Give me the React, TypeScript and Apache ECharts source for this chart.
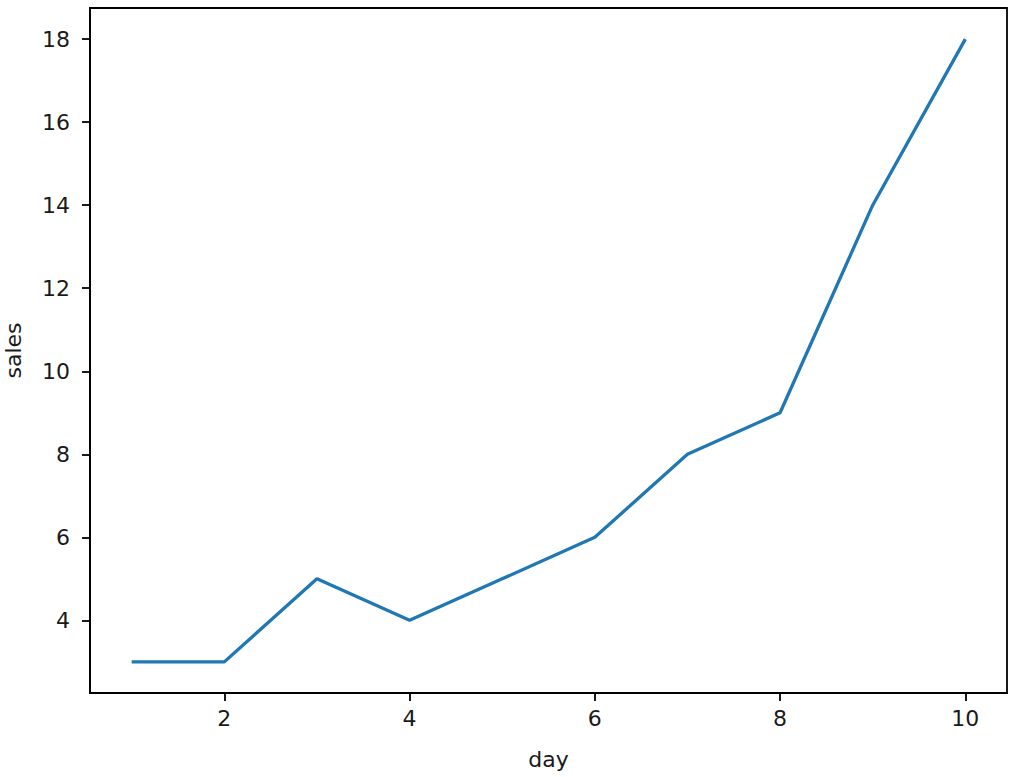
import React from 'react';
import * as echarts from 'echarts';

const days = [1, 2, 3, 4, 5, 6, 7, 8, 9, 10];
const sales = [3, 3, 5, 4, 5, 6, 8, 9, 14, 18];
const xTicks = [2, 4, 6, 8, 10];
const yTicks = [4, 6, 8, 10, 12, 14, 16, 18];

const FONT = 'DejaVu Sans';

const App = () => {
  const chartRef = React.useRef(null);

  React.useEffect(() => {
    const myChart = echarts.init(chartRef.current, null, { renderer: 'svg' });

    const axisCommon = {
      type: 'value',
      splitLine: { show: false },
      axisLine: { show: true, lineStyle: { color: '#000', width: 1.8 } },
      axisTick: { show: true, length: 8, lineStyle: { color: '#000', width: 1.8 } },
      nameLocation: 'middle',
      nameTextStyle: { fontFamily: FONT, fontSize: 22, color: '#1a1a1a' },
    };

    myChart.setOption({
      animation: false,
      backgroundColor: '#fff',
      grid: {
        left: 90,
        right: 17,
        top: 8,
        bottom: 84,
        show: true,
        borderColor: '#000',
        borderWidth: 1.8,
        outerBoundsMode: 'none',
        containLabel: false,
      },
      xAxis: {
        ...axisCommon,
        name: 'day',
        nameGap: 55,
        min: 0.55,
        max: 10.45,
        axisTick: { ...axisCommon.axisTick, customValues: xTicks },
        axisLabel: {
          customValues: xTicks,
          margin: 14,
          fontFamily: FONT,
          fontSize: 22,
          color: '#1a1a1a',
        },
      },
      yAxis: {
        ...axisCommon,
        name: 'sales',
        nameGap: 66,
        min: 2.25,
        max: 18.75,
        axisTick: { ...axisCommon.axisTick, customValues: yTicks },
        axisLabel: {
          customValues: yTicks,
          margin: 20,
          fontFamily: FONT,
          fontSize: 22,
          color: '#1a1a1a',
        },
      },
      series: [
        {
          type: 'line',
          data: days.map((d, i) => [d, sales[i]]),
          showSymbol: false,
          lineStyle: { color: '#1f77b4', width: 3.3 },
        },
      ],
    });

    return () => {
      myChart.dispose();
    };
  }, []);

  return (
    <div
      ref={chartRef}
      style={{ position: 'fixed', left: 0, top: 0, width: '1024px', height: '777px' }}
    />
  );
};

export default App;
